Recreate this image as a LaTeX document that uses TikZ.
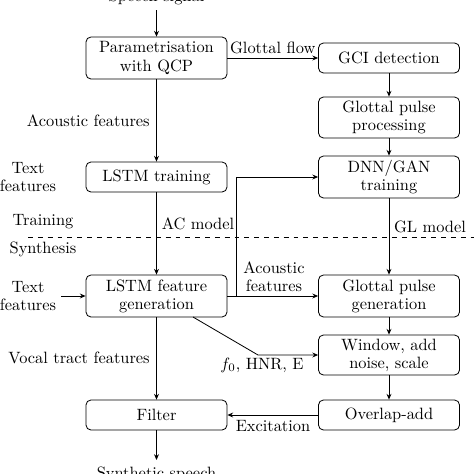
\documentclass[tikz,border=0pt]{standalone}
\usetikzlibrary{arrows.meta}
\begin{document}
\begin{tikzpicture}[x=0.61pt,y=-0.61pt,
  box/.style={draw, rounded corners=3pt, minimum width=86pt, align=center, inner sep=1pt, line width=0.5pt},
  one/.style={box, minimum height=18.3pt},
  two/.style={box, minimum height=25.6pt},
  arr/.style={-{Stealth[length=3.5pt,width=3pt]}, line width=0.5pt},
  ln/.style={line width=0.5pt},
  lbl/.style={inner sep=0pt, align=center}]
\useasboundingbox (0,0) rectangle (474,474);

% boxes
\node[two] (param) at (156.5,58) {Parametrisation\\[-1pt]with QCP};
\node[one] (gci) at (389,58) {GCI detection};
\node[two, minimum height=25pt] (gpp) at (389,117.5) {Glottal pulse\\[-1pt]processing};
\node[one] (lstmt) at (156.5,177) {LSTM training};
\node[two] (dnn) at (389,177) {DNN/GAN\\[-1pt]training};
\node[two] (lstmg) at (156.5,296) {LSTM feature\\[-1pt]generation};
\node[two] (gpg) at (389,296) {Glottal pulse\\[-1pt]generation};
\node[two, minimum height=24.4pt] (win) at (389,355) {Window, add\\[-1pt]noise, scale};
\node[one] (filt) at (156.5,415) {Filter};
\node[one] (ola) at (389,415) {Overlap-add};

% outer texts
\node[anchor=base] (speech) at (156.5,1) {Speech signal};
\node[anchor=north, inner sep=4pt] (synth) at (156.5,460) {Synthetic speech};
\node[lbl] (tf1) at (28,177) {Text\\[-1pt]features};
\node[lbl, inner sep=3pt] (tf2) at (28,296) {Text\\[-1pt]features};
\node[lbl] (train) at (43,222) {Training};
\node[lbl] (synthl) at (43,249) {Synthesis};
\node[lbl, anchor=east] (acl) at (150,121) {Acoustic features};
\node[lbl, anchor=east] (vtl) at (150,358) {Vocal tract features};
\node[lbl] (acm) at (198,224) {AC model};
\node[lbl] (glm) at (430,227) {GL model};
\node[lbl] (acf) at (274,277) {Acoustic\\[-1pt]features};
\node[lbl] (f0l) at (262,365) {$f_0$, HNR, E};
\node[lbl] (excl) at (273,426) {Excitation};

% separator
\draw[dashed, ln] (28,237) -- (474,237);

% connectors
\draw[arr] (speech.south) -- (param.north);
\draw[arr] (param.east) -- node[above, inner sep=2pt]{Glottal flow} (gci.west);
\draw[arr] (param.south) -- (lstmt.north);
\draw[arr] (gci.south) -- (gpp.north);
\draw[arr] (gpp.south) -- (dnn.north);
\draw[arr] (lstmt.south) -- (lstmg.north);
\draw[arr] (dnn.south) -- (gpg.north);
\draw[arr] (tf2.east) -- (lstmg.west);
\draw[arr] (lstmg.east) -- (gpg.west);
\coordinate (br) at (236,296);
\draw[arr] (br) |- (dnn.west);
\coordinate (d1) at (193,317);
\coordinate (d2) at (258,355);
\draw[arr] (d1) -- (d2) -- (win.west);
\draw[arr] (gpg.south) -- (win.north);
\draw[arr] (win.south) -- (ola.north);
\draw[arr] (ola.west) -- (filt.east);
\draw[arr] (lstmg.south) -- (filt.north);
\draw[arr] (filt.south) -- (synth.north);
\end{tikzpicture}
\end{document}
